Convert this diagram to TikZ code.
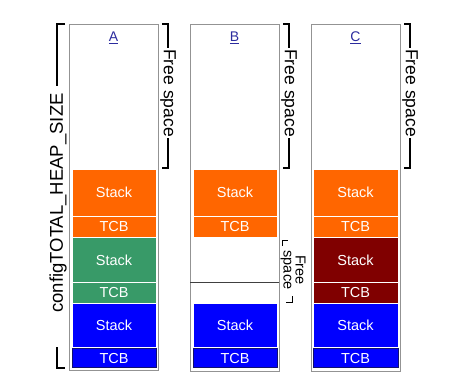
\documentclass[tikz,border=0pt]{standalone}
\usepackage{fontspec}
\setmainfont{Liberation Sans}
\definecolor{stackorange}{HTML}{FF6600}
\definecolor{stackgreen}{HTML}{389A68}
\definecolor{stackblue}{HTML}{0000FF}
\definecolor{stackred}{HTML}{800000}
\definecolor{tcbedge}{HTML}{101070}
\definecolor{labelblue}{HTML}{2B2B9E}
\tikzset{
  heap/.style={draw=gray!85, line width=1pt},
  block/.style={draw=white, line width=0.8pt, inner sep=0pt, outer sep=0pt,
    text=white, font=\fontsize{14.5}{14.5}\selectfont},
  brack/.style={line width=1.1pt},
  brtext/.style={font=\fontsize{17.5}{17.5}\selectfont, inner sep=1pt},
  collabel/.style={text=labelblue, font=\fontsize{14}{14}\selectfont}
}

\begin{document}
\begin{tikzpicture}[x=1pt,y=-1pt]
  \useasboundingbox (0,0) rectangle (474,384);

  % heap size bracket
  \draw[brack] (65,24)--(57,24)--(57,86);
  \draw[brack] (57,347)--(57,368)--(65,368);
  \node[brtext, font=\fontsize{18.5}{18.5}\selectfont, rotate=90] (heapsize) at (58,203) {configTOTAL\_HEAP\_SIZE};

  % A column
  \draw[heap] (69,24) rectangle (158,370);
  \node[collabel] (labA) at (113.5,38) {\underline{A}};
  \node[block, fill=stackorange, minimum width=84, minimum height=47.5] (aStack1) at (114,192.75) {Stack};
  \node[block, fill=stackorange, minimum width=84, minimum height=21] (aTcb1) at (114,227) {TCB};
  \node[block, fill=stackgreen, minimum width=84, minimum height=45] (aStack2) at (114,260) {Stack};
  \node[block, fill=stackgreen, minimum width=84, minimum height=21] (aTcb2) at (114,293) {TCB};
  \node[block, fill=stackblue, minimum width=84, minimum height=44] (aStack3) at (114,325.5) {Stack};
  \node[block, fill=stackblue, draw=tcbedge, minimum width=84, minimum height=19.5] (aTcb3) at (114,358) {TCB};
  % A free space
  \draw[brack] (162,24)--(168,24)--(168,168)--(162,168);
  \node[brtext, fill=white, rotate=-90] (freeA) at (168,93) {Free space};

  % B column
  \draw[heap] (190,24) rectangle (279,371);
  \node[collabel] (labB) at (234.5,38) {\underline{B}};
  \node[block, fill=stackorange, minimum width=84, minimum height=47.5] (bStack1) at (235,192.75) {Stack};
  \node[block, fill=stackorange, minimum width=84, minimum height=21] (bTcb1) at (235,227) {TCB};
  \draw[gray!50!black, line width=0.7pt] (190,282.5)--(279,282.5);
  \node[block, fill=stackblue, minimum width=84, minimum height=44] (bStack3) at (235,325.5) {Stack};
  \node[block, fill=stackblue, draw=tcbedge, minimum width=84, minimum height=19.5] (bTcb3) at (235,358) {TCB};
  % B free space
  \draw[brack] (283,24)--(289,24)--(289,168)--(283,168);
  \node[brtext, fill=white, rotate=-90] (freeB) at (289,93) {Free space};
  \draw[line width=1pt] (282,246)--(282,240)--(288,240);
  \draw[line width=1pt] (286,302)--(292,302)--(292,296);
  \node[brtext, font=\fontsize{14.5}{12}\selectfont, rotate=-90, align=center] (freeB2) at (293,270) {Free\\space};

  % C column
  \draw[heap] (311,24) rectangle (400,371);
  \node[collabel] (labC) at (355.5,38) {\underline{C}};
  \node[block, fill=stackorange, minimum width=85, minimum height=47.5] (cStack1) at (355.5,192.75) {Stack};
  \node[block, fill=stackorange, minimum width=85, minimum height=21] (cTcb1) at (355.5,227) {TCB};
  \node[block, fill=stackred, minimum width=85, minimum height=45] (cStack2) at (355.5,260) {Stack};
  \node[block, fill=stackred, minimum width=85, minimum height=21] (cTcb2) at (355.5,293) {TCB};
  \node[block, fill=stackblue, minimum width=85, minimum height=44] (cStack3) at (355.5,325.5) {Stack};
  \node[block, fill=stackblue, draw=tcbedge, minimum width=85, minimum height=19.5] (cTcb3) at (355.5,358) {TCB};
  % C free space
  \draw[brack] (404,24)--(410,24)--(410,168)--(404,168);
  \node[brtext, fill=white, rotate=-90] (freeC) at (410,93) {Free space};
\end{tikzpicture}
\end{document}
